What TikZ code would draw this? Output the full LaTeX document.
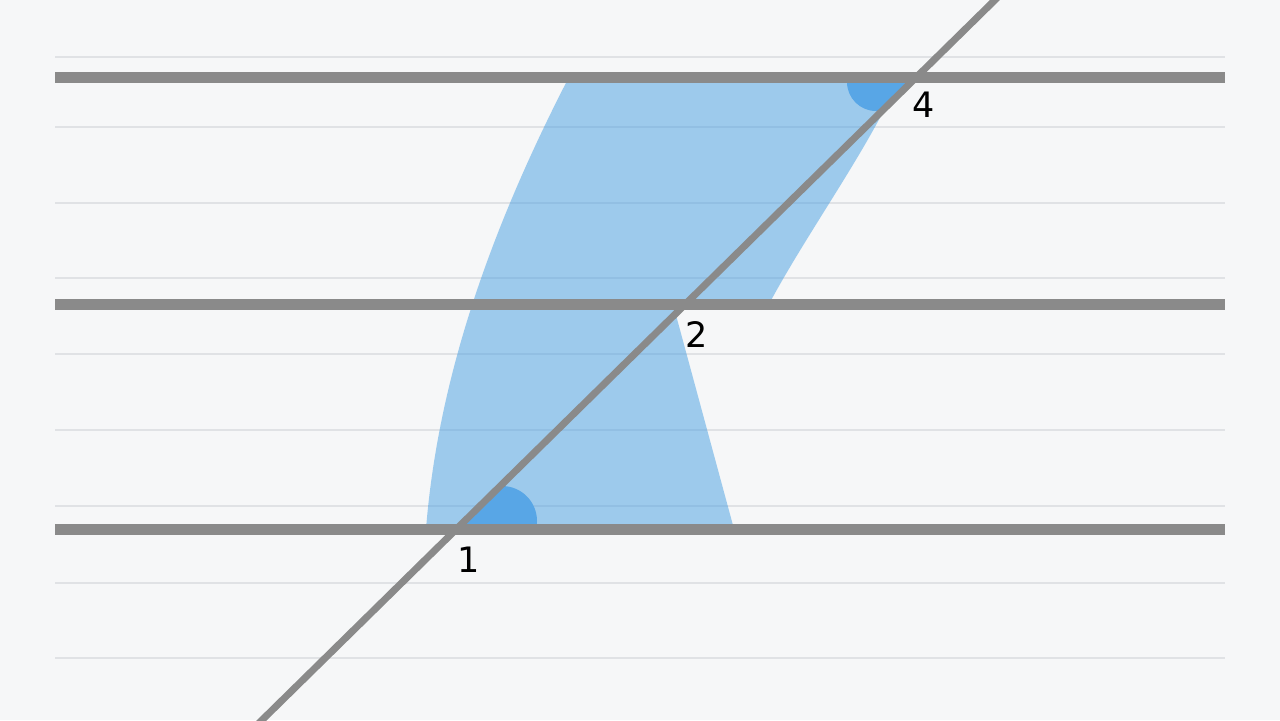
\documentclass[tikz,border=0pt]{standalone}
\usepackage{fontspec}
\setmainfont{DejaVu Sans}
\definecolor{bgc}{RGB}{246,247,248}
\definecolor{thinc}{RGB}{224,226,229}
\definecolor{thickc}{RGB}{138,138,138}
\definecolor{bandc}{RGB}{70,158,226}
\definecolor{markc}{RGB}{88,166,230}
\tikzset{
  thinline/.style={draw=thinc, line width=0.8pt},
  thickline/.style={draw=thickc, line width=5.5pt},
  diagline/.style={draw=thickc, line width=3.5pt},
  band/.style={fill=bandc, fill opacity=0.5},
  marker/.style={fill=markc},
  lbl/.style={inner sep=0pt, font=\fontsize{17.5}{20}\selectfont, text=black}
}
\begin{document}
\begin{tikzpicture}[x=0.5pt,y=-0.5pt]
\useasboundingbox (0,0) rectangle (1280,720);
\fill[bgc] (0,0) rectangle (1280,720);
\clip (0,0) rectangle (1280,720);
% thin ruled lines
\foreach \yy in {57,127,203,278,354,430,506,583,658}
  \draw[thinline] (55,\yy) -- (1225,\yy);
% blue band
\path[band] (569,77) .. controls (490,230) and (438,379) .. (426,529)
  -- (734,529) -- (673,304) -- (769,304)
  .. controls (810,228) and (868,150) .. (900,77) -- cycle;
% angle markers
\begin{scope}
  \clip (456,529) -- (621,529) -- (621,367) -- cycle;
  \fill[marker] (502,521) circle (35);
\end{scope}
\begin{scope}
  \clip (917,77) -- (754,77) -- (754,237) -- cycle;
  \fill[marker] (876,82) circle (29);
\end{scope}
% parallel lines
\coordinate (tL) at (55,77);  \coordinate (tR) at (1225,77);
\coordinate (mL) at (55,304); \coordinate (mR) at (1225,304);
\coordinate (bL) at (55,529); \coordinate (bR) at (1225,529);
\draw[thickline] (tL) -- (tR);
\draw[thickline] (mL) -- (mR);
\draw[thickline] (bL) -- (bR);
% transversal
\coordinate (dA) at (258,724);
\coordinate (dB) at (999,-4);
\draw[diagline] (dA) -- (dB);
% labels
\node[lbl] (n1) at (469,560) {1};
\node[lbl] (n2) at (697,334) {2};
\node[lbl] (n4) at (924,105) {4};
\end{tikzpicture}
\end{document}
